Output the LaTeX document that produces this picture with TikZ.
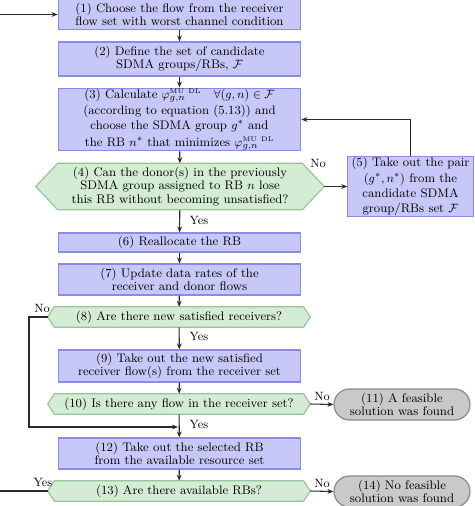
\documentclass[tikz,border=0pt]{standalone}
\usepackage{amsmath,amssymb}
\usetikzlibrary{arrows.meta,backgrounds,calc,shapes.misc}
\definecolor{boxfill}{HTML}{C8C8F8}
\definecolor{boxline}{HTML}{8A8AEA}
\definecolor{hexfill}{HTML}{D3ECD3}
\definecolor{hexline}{HTML}{98C698}
\definecolor{termfill}{HTML}{C9C9C9}
\definecolor{termline}{HTML}{8A8A8A}
\definecolor{conn}{HTML}{2A2A2A}
\tikzset{
  txt/.style={font=\fontsize{9.3}{10.2}\selectfont, align=center, inner sep=0pt},
  loosetxt/.style={font=\fontsize{9.3}{11.2}\selectfont},
  procbox/.style={txt, rectangle, draw=boxline, fill=boxfill, line width=0.9pt, minimum width=182pt},
  hexnode/.style={txt, rectangle, draw=none},
  hexshape/.style={draw=hexline, fill=hexfill, line width=0.9pt},
  termbox/.style={txt, rounded rectangle, draw=termline, fill=termfill, line width=0.9pt, minimum width=102pt, minimum height=23.25pt},
  arr/.style={draw=conn, line width=0.8pt, -{Stealth[length=4.5pt,width=3.6pt]}},
  ln/.style={draw=conn, line width=0.8pt},
  lab/.style={font=\fontsize{9}{10}\selectfont, inner sep=0pt}
}
\newcommand{\phimudl}{\varphi_{g,n}^{\scriptscriptstyle\mathrm{MU\ DL}}}
\begin{document}
\begin{tikzpicture}[x=0.75pt,y=-0.75pt]
\useasboundingbox (0,0) rectangle (474,506);
% process boxes
\node[procbox, minimum height=22.5pt] (b1) at (179.5,14.5) {(1) Choose the flow from the receiver\\flow set with worst channel condition};
\node[procbox, minimum height=25.5pt] (b2) at (179.5,59) {(2) Define the set of candidate\\SDMA groups/RBs, $\mathcal{F}$};
\node[procbox, loosetxt, minimum height=47pt] (b3) at (179.5,119.5) {(3) Calculate $\phimudl$\quad$\forall(g,n)\in\mathcal{F}$\\[1pt](according to equation (5.13)) and\\choose the SDMA group $g^{*}$ and\\[1.5pt]the RB $n^{*}$ that minimizes $\phimudl$};
\node[hexnode, minimum width=216pt, minimum height=34.5pt] (h4) at (180,186.5) {(4) Can the donor(s) in the previously\\SDMA group assigned to RB $n$ lose\\this RB without becoming unsatisfied?};
\node[procbox, loosetxt, minimum width=94pt, minimum height=45pt] (b5) at (410.5,186.5) {(5) Take out the pair\\[1pt]$(g^{*},n^{*})$ from the\\candidate SDMA\\group/RBs set $\mathcal{F}$};
\node[procbox, minimum height=14.25pt] (b6) at (179.5,242.5) {(6) Reallocate the RB};
\node[procbox, minimum height=23.25pt] (b7) at (179.5,279.5) {(7) Update data rates of the\\receiver and donor flows};
\node[hexnode, minimum width=196.5pt, minimum height=15pt] (h8) at (179,317) {(8) Are there new satisfied receivers?};
\node[procbox, minimum height=24pt] (b9) at (179.5,366) {(9) Take out the new satisfied\\receiver flow(s) from the receiver set};
\node[hexnode, minimum width=196.5pt, minimum height=15pt] (h10) at (179,404) {(10) Is there any flow in the receiver set?};
\node[termbox] (t11) at (402,404.5) {(11) A feasible\\solution was found};
\node[procbox, minimum height=23.25pt] (b12) at (179.5,453.5) {(12) Take out the selected RB\\from the available resource set};
\node[hexnode, minimum width=196.5pt, minimum height=15pt] (h13) at (179,491) {(13) Are there available RBs?};
\node[termbox] (t14) at (402,491.5) {(14) No feasible\\solution was found};
% hexagons
\begin{scope}[on background layer]
\draw[hexshape] (h4.west) -- ([xshift=16.5pt]h4.north west) -- ([xshift=-16.5pt]h4.north east) -- (h4.east) -- ([xshift=-16.5pt]h4.south east) -- ([xshift=16.5pt]h4.south west) -- cycle;
\foreach \h in {h8,h10,h13}{
\draw[hexshape] (\h.west) -- ([xshift=5pt]\h.north west) -- ([xshift=-5pt]\h.north east) -- (\h.east) -- ([xshift=-5pt]\h.south east) -- ([xshift=5pt]\h.south west) -- cycle;
}
\end{scope}
% coordinates
\coordinate (in1) at (0,14.5);
\coordinate (out13) at (0,491);
\coordinate (c5) at (b5.north |- b3.east);
\coordinate (n8a) at (29,317);
\coordinate (n8b) at (29,427);
\coordinate (n8c) at (178,427);
% connectors
\draw[arr] (in1) -- (b1.west);
\draw[arr] (b1) -- (b2);
\draw[arr] (b2) -- (b3);
\draw[arr] (b3) -- (h4);
\draw[arr] (h4.east) -- (b5.west);
\draw[arr] (b5.north) -- (c5) -- (b3.east);
\draw[arr] (h4) -- (b6);
\draw[arr] (b6) -- (b7);
\draw[arr] (b7) -- (h8);
\draw[arr] (h8) -- (b9);
\draw[arr] (h8.west) -- (n8a) -- (n8b) -- (n8c);
\draw[arr] (b9) -- (h10);
\draw[arr] (h10) -- (b12);
\draw[arr] (h10.east) -- (t11.west);
\draw[arr] (b12) -- (h13);
\draw[arr] (h13.east) -- (t14.west);
\draw[ln] (h13.west) -- (out13);
% labels
\node[lab] (l4no) at (318,163) {No};
\node[lab] (l4yes) at (199,220) {Yes};
\node[lab] (l8no) at (42,308) {No};
\node[lab] (l8yes) at (199,336) {Yes};
\node[lab] (l10no) at (322,396) {No};
\node[lab] (l10yes) at (199,424) {Yes};
\node[lab] (l13no) at (322,483) {No};
\node[lab] (l13yes) at (43,482) {Yes};
\end{tikzpicture}
\end{document}
